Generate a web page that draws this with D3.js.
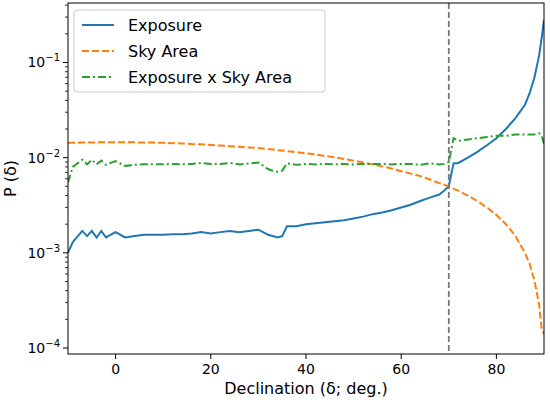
<!DOCTYPE html><html><head><meta charset="utf-8">
<script src="https://cdn.jsdelivr.net/npm/d3@7"></script>
<style>body{margin:0;background:#fff}text{font-family:"DejaVu Sans",sans-serif}</style></head><body>
<svg id="c" width="550" height="402"></svg>
<script>
const decl=[-10,-9,-7,-6,-5,-4,-3,-2,-1,0, 2,4,6,8,10,12,14,16,18,20, 22,24,26,28,30,32,33,34,35,36, 38,40,42,44,46,48,50,52,54,56, 58,60,62,64,66,68,69,70,71,72, 74,76,78,80,82,84,86,87,88,89,89.5,90];
const exposure=[1.0e-3,1.3e-3,1.7e-3,1.5e-3,1.7e-3,1.45e-3,1.7e-3,1.45e-3,1.55e-3,1.65e-3,
1.45e-3,1.5e-3,1.55e-3,1.55e-3,1.55e-3,1.57e-3,1.57e-3,1.6e-3,1.65e-3,1.6e-3,
1.65e-3,1.7e-3,1.65e-3,1.7e-3,1.75e-3,1.55e-3,1.5e-3,1.45e-3,1.5e-3,1.9e-3,
1.9e-3,2.0e-3,2.05e-3,2.1e-3,2.15e-3,2.2e-3,2.3e-3,2.4e-3,2.55e-3,2.65e-3,
2.8e-3,3.0e-3,3.2e-3,3.5e-3,3.8e-3,4.1e-3,4.5e-3,5.0e-3,8.7e-3,8.8e-3,
1.0e-2,1.15e-2,1.35e-2,1.6e-2,2.0e-2,2.6e-2,3.6e-2,4.8e-2,7e-2,1.2e-1,1.8e-1,2.8e-1];
const skyArea=[0.0143,0.0143,0.0144,0.0144,0.0144,0.0145,0.0145,0.0145,0.0145,0.0145,
0.0145,0.0145,0.0144,0.0144,0.0143,0.0142,0.0141,0.0139,0.0138,0.0136,
0.0134,0.0132,0.013,0.0128,0.0126,0.0123,0.0122,0.012,0.0119,0.0117,
0.0114,0.0111,0.0108,0.0104,0.0101,0.0097,0.0093,0.0089,0.0085,0.0081,
0.0077,0.0072,0.0068,0.0064,0.0059,0.0054,0.0052,0.0050,0.0047,0.0045,
0.0040,0.0035,0.0030,0.0025,0.0020,0.0015,0.0010,0.00076,0.00051,0.00028,0.00016,0.00014];
const product=[5.5e-3,8e-3,9.5e-3,8.5e-3,9.5e-3,8.5e-3,9.3e-3,8.4e-3,8.8e-3,9.2e-3,
8.2e-3,8.4e-3,8.5e-3,8.5e-3,8.5e-3,8.6e-3,8.5e-3,8.6e-3,8.8e-3,8.6e-3,
8.6e-3,8.8e-3,8.5e-3,8.7e-3,8.9e-3,7.6e-3,7.3e-3,7.1e-3,7.3e-3,8.7e-3,
8.4e-3,8.6e-3,8.5e-3,8.6e-3,8.5e-3,8.6e-3,8.5e-3,8.6e-3,8.6e-3,8.6e-3,
8.5e-3,8.6e-3,8.6e-3,8.4e-3,8.7e-3,8.5e-3,8.6e-3,9.0e-3,1.6e-2,1.5e-2,
1.55e-2,1.6e-2,1.65e-2,1.7e-2,1.7e-2,1.75e-2,1.75e-2,1.75e-2,1.75e-2,1.8e-2,1.7e-2,1.4e-2];
const xTicks=[0,20,40,60,80];
const yTickExps=[-4,-3,-2,-1];
const cutLine=70;
const series=[{name:"Exposure",v:exposure,c:"#1f77b4",d:null},
{name:"Sky Area",v:skyArea,c:"#ff7f0e",d:"7,3"},
{name:"Exposure x Sky Area",v:product,c:"#2ca02c",d:"8,3,2,3"}];

const L=68,R=544,T=3,B=354;
const svg=d3.select("#c");
const x=d3.scaleLinear().domain([-10,90]).range([L,R]);
const y=d3.scaleLog().domain([10**-4.063,10**-0.375]).range([B,T]);
const g=svg.append("g");
const clip=svg.append("clipPath").attr("id","cl").append("rect").attr("x",L).attr("y",T).attr("width",R-L).attr("height",B-T);
const pl=svg.append("g").attr("clip-path","url(#cl)");
series.forEach(s=>{
 pl.append("path").datum(decl.map((d,i)=>[d,s.v[i]])).attr("fill","none").attr("stroke",s.c).attr("stroke-width",2)
 .attr("stroke-dasharray",s.d).attr("d",d3.line().x(d=>x(d[0])).y(d=>y(d[1])));
});
pl.append("line").attr("x1",x(cutLine)).attr("x2",x(cutLine)).attr("y1",T).attr("y2",B).attr("stroke","#777").attr("stroke-width",1.8).attr("stroke-dasharray","6,3");
svg.append("rect").attr("x",L).attr("y",T).attr("width",R-L).attr("height",B-T).attr("fill","none").attr("stroke","#000").attr("stroke-width",1);
// x axis
xTicks.forEach(t=>{
 svg.append("line").attr("x1",x(t)).attr("x2",x(t)).attr("y1",B).attr("y2",B+5).attr("stroke","#000");
 svg.append("text").attr("x",x(t)).attr("y",B+20).attr("text-anchor","middle").attr("font-size",14).text(t);
});
svg.append("text").attr("x",(L+R)/2).attr("y",394).attr("text-anchor","middle").attr("font-size",16).text("Declination (δ; deg.)");
// y axis
yTickExps.forEach(e=>{
 const yy=y(10**e);
 svg.append("line").attr("x1",L-5).attr("x2",L).attr("y1",yy).attr("y2",yy).attr("stroke","#000");
 const t=svg.append("text").attr("x",L-8).attr("y",yy+5).attr("text-anchor","end").attr("font-size",14);
 t.append("tspan").text("10");
 t.append("tspan").attr("dy",-6).attr("font-size",10).text("−"+(-e));
 for(let k=2;k<10;k++){const v=k*10**e;if(v<y.domain()[1]){const yk=y(v);
  svg.append("line").attr("x1",L-3).attr("x2",L).attr("y1",yk).attr("y2",yk).attr("stroke","#000").attr("stroke-width",0.8);}}
});
for(let k=9;k<10;k++){const v=k*1e-5;if(v>y.domain()[0]){}}
svg.append("text").attr("transform",`translate(16,${(T+B)/2}) rotate(-90)`).attr("text-anchor","middle").attr("font-size",16).text("P (δ)");
// legend
const lg=svg.append("g").attr("transform","translate(74,10)");
lg.append("rect").attr("width",251).attr("height",82).attr("rx",3).attr("fill","#fff").attr("fill-opacity",0.8).attr("stroke","#ccc");
series.forEach((s,i)=>{
 const yy=15+i*26;
 lg.append("line").attr("x1",8).attr("x2",40).attr("y1",yy).attr("y2",yy).attr("stroke",s.c).attr("stroke-width",2).attr("stroke-dasharray",s.d);
 lg.append("text").attr("x",54).attr("y",yy+6).attr("font-size",16).text(s.name);
});
</script></body></html>
